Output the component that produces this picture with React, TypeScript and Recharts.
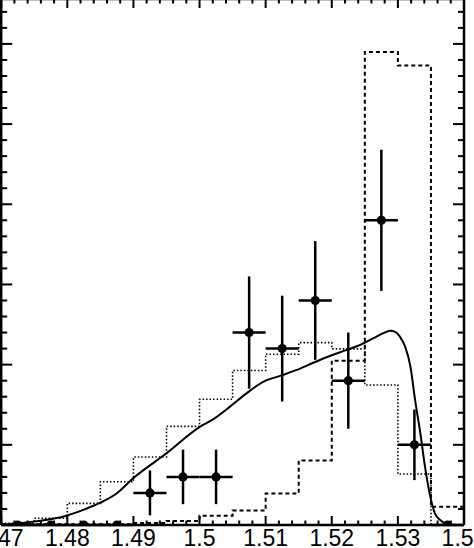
import React from "react";
import {
  ComposedChart,
  Line,
  Scatter,
  ErrorBar,
  XAxis,
  YAxis,
} from "recharts";

// bin edges (width 0.005) for the two histograms
const binEdges = [
  1.47, 1.475, 1.48, 1.485, 1.49, 1.495, 1.5, 1.505, 1.51, 1.515, 1.52, 1.525,
  1.53, 1.535, 1.54,
];
const dottedHist = [
  0.1, 0.42, 1.35, 2.7, 4.24, 6.15, 7.84, 9.63, 10.65, 11.37, 10.98, 8.73, 3.18, 0,
];
const dashedHist = [
  0.05, 0.05, 0.05, 0.05, 0.12, 0.25, 0.58, 0.9, 1.97, 4.02, 10.25, 29.5, 28.65,
  1.14,
];

// smooth fit curve
const curveX = [
  1.4705, 1.4728, 1.4749, 1.4774, 1.4799, 1.4824, 1.485, 1.4875, 1.49, 1.495,
  1.5001, 1.5019, 1.5046, 1.5071, 1.5097, 1.5122, 1.5147, 1.5172, 1.5197,
  1.5223, 1.5243, 1.5263, 1.5278, 1.5288, 1.5296, 1.5303, 1.5311, 1.5319,
  1.5326, 1.5334, 1.5341, 1.5349, 1.5356, 1.5364, 1.5374, 1.5387,
];
const curveY = [
  0.03, 0.11, 0.21, 0.36, 0.58, 0.94, 1.39, 1.98, 2.93, 4.47, 6.13, 6.55, 7.38,
  8.21, 8.94, 9.3, 9.67, 10.12, 10.54, 10.92, 11.23, 11.65, 11.96, 12.12, 12.04,
  11.75, 11.12, 9.88, 7.8, 5.72, 3.64, 1.77, 0.73, 0.31, 0.06, 0,
];

// data points (bin centres) with errors
const pointX = [
  1.4725, 1.4775, 1.4825, 1.4875, 1.4925, 1.4975, 1.5025, 1.5075, 1.5125,
  1.5175, 1.5225, 1.5275, 1.5325, 1.5375,
];
const pointY = [0, 0, 0, 0, 2, 3, 3, 12, 11, 14, 9, 19, 5, 0];
const pointErr = [0, 0, 0, 0, 1.4, 1.7, 1.7, 3.5, 3.3, 3.7, 3, 4.4, 2.2, 0];
const halfBin = 0.0025;

const xMajorTicks = [1.47, 1.48, 1.49, 1.5, 1.51, 1.52, 1.53, 1.54];
const xTickLabels = ["1.47", "1.48", "1.49", "1.5", "1.51", "1.52", "1.53", "1.54"];

const X_MIN = 1.47;
const X_MAX = 1.54;
const Y_MAX = 32.8;

const xAllTicks: number[] = [];
for (let i = 0; i <= 35; i++) xAllTicks.push(+(1.47 + i * 0.002).toFixed(4));
const yAllTicks: number[] = [];
for (let i = 0; i <= 32; i++) yAllTicks.push(i);

function majorIndex(v: number) {
  return xMajorTicks.findIndex((m) => Math.abs(m - v) < 1e-6);
}

const stepData = (vals: number[]) => {
  const d = vals.map((v, i) => ({ x: binEdges[i], y: v }));
  d.push({ x: binEdges[binEdges.length - 1], y: vals[vals.length - 1] });
  return d;
};
const dottedData = stepData(dottedHist);
const dashedData = stepData(dashedHist);
const curveData = curveX.map((x, i) => ({ x, y: curveY[i] }));
const pointData = pointX.map((x, i) => ({
  x,
  y: pointY[i],
  ex: halfBin,
  ey: pointErr[i],
}));

const W = 474;
const H = 550;
const MARGIN = { top: 1, right: 10, bottom: 0, left: 0.2 };
const X_AXIS_H = 23;
const Y_AXIS_W = 1;

// plot box, same numbers recharts uses for its layout
const plotL = MARGIN.left + Y_AXIS_W;
const plotR = W - MARGIN.right;
const plotT = MARGIN.top;
const plotB = H - MARGIN.bottom - X_AXIS_H;
const sx = (v: number) => plotL + ((v - X_MIN) / (X_MAX - X_MIN)) * (plotR - plotL);
const sy = (v: number) => plotB - (v / Y_MAX) * (plotB - plotT);

const BottomTick = (props: any) => {
  const { x, y, payload } = props;
  const idx = majorIndex(payload.value);
  if (idx < 0) return <g />;
  return (
    <text
      x={x}
      y={y + 21}
      textAnchor="middle"
      fontSize={23}
      fontFamily="'Liberation Sans', Arial, sans-serif"
      fill="#000"
    >
      {xTickLabels[idx]}
    </text>
  );
};

const Dot = (p: any) => <circle cx={p.cx} cy={p.cy} r={4.6} fill="#000" />;

// frame with inward ticks on all four sides
function Frame() {
  return (
    <svg
      width={W}
      height={H}
      style={{ position: "absolute", left: 0, top: 0, pointerEvents: "none" }}
    >
      <g stroke="#000" fill="none">
        <line x1={sx(X_MAX)} y1={sy(0)} x2={sx(X_MAX)} y2={sy(Y_MAX)} strokeWidth={2.5} />
        <line x1={sx(X_MIN)} y1={sy(Y_MAX)} x2={sx(X_MAX)} y2={sy(Y_MAX)} strokeWidth={2.5} />
        {xAllTicks.map((v) => {
          const len = majorIndex(v) >= 0 ? 9 : 4.5;
          return (
            <g key={"x" + v} strokeWidth={2}>
              <line x1={sx(v)} y1={sy(0)} x2={sx(v)} y2={sy(0) - len} />
              <line x1={sx(v)} y1={sy(Y_MAX)} x2={sx(v)} y2={sy(Y_MAX) + len} />
            </g>
          );
        })}
        {yAllTicks.map((v) => {
          const len = v % 5 === 0 ? 11 : 6;
          return (
            <g key={"y" + v} strokeWidth={2}>
              <line x1={sx(X_MIN)} y1={sy(v)} x2={sx(X_MIN) + len} y2={sy(v)} />
              <line x1={sx(X_MAX)} y1={sy(v)} x2={sx(X_MAX) - len} y2={sy(v)} />
            </g>
          );
        })}
      </g>
    </svg>
  );
}

export default function App() {
  return (
    <div style={{ position: "absolute", left: 0, top: -2, width: W, height: H, background: "#fff" }}>
      <ComposedChart width={W} height={H} margin={MARGIN}>
        <XAxis
          xAxisId="b"
          dataKey="x"
          type="number"
          domain={[X_MIN, X_MAX]}
          allowDataOverflow
          ticks={xMajorTicks}
          interval={0}
          tick={BottomTick}
          tickLine={false}
          tickSize={0}
          tickMargin={0}
          axisLine={{ stroke: "#000", strokeWidth: 2.5 }}
          height={X_AXIS_H}
        />
        <YAxis
          yAxisId="l"
          type="number"
          domain={[0, Y_MAX]}
          allowDataOverflow
          tick={false}
          tickLine={false}
          axisLine={{ stroke: "#000", strokeWidth: 2.5 }}
          width={Y_AXIS_W}
        />
        <Line
          xAxisId="b"
          yAxisId="l"
          data={dottedData}
          dataKey="y"
          type="stepAfter"
          stroke="#000"
          strokeWidth={1.6}
          strokeDasharray="1.5 2"
          dot={false}
          activeDot={false}
          isAnimationActive={false}
        />
        <Line
          xAxisId="b"
          yAxisId="l"
          data={dashedData}
          dataKey="y"
          type="stepAfter"
          stroke="#000"
          strokeWidth={2}
          strokeDasharray="4 3"
          dot={false}
          activeDot={false}
          isAnimationActive={false}
        />
        <Line
          xAxisId="b"
          yAxisId="l"
          data={curveData}
          dataKey="y"
          type="monotone"
          stroke="#000"
          strokeWidth={2}
          dot={false}
          activeDot={false}
          isAnimationActive={false}
        />
        <Scatter
          xAxisId="b"
          yAxisId="l"
          data={pointData}
          dataKey="y"
          fill="#000"
          shape={Dot}
          isAnimationActive={false}
        >
          <ErrorBar dataKey="ey" direction="y" width={0} stroke="#000" strokeWidth={2.5} isAnimationActive={false} />
          <ErrorBar dataKey="ex" direction="x" width={0} stroke="#000" strokeWidth={2.5} isAnimationActive={false} />
        </Scatter>
      </ComposedChart>
      <Frame />
    </div>
  );
}
